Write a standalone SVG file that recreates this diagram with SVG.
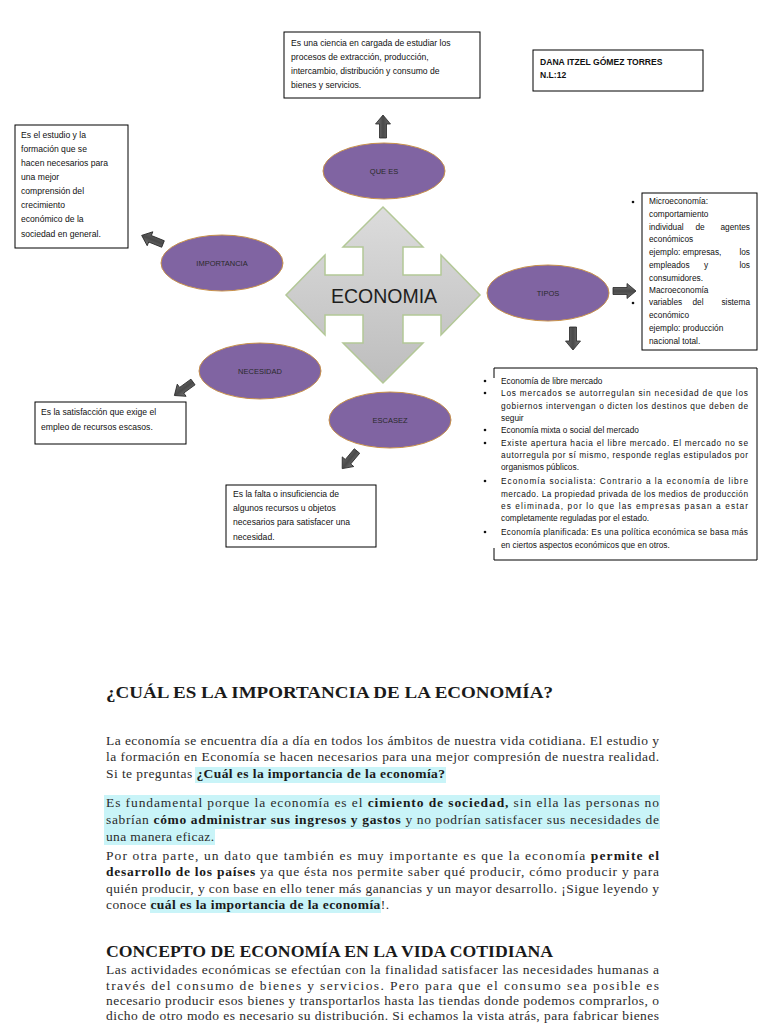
<svg xmlns="http://www.w3.org/2000/svg" width="768" height="1024" viewBox="0 0 768 1024">
<defs>
<linearGradient id="gq" x1="0" y1="0" x2="0" y2="1"><stop offset="0" stop-color="#dcdcdc"/><stop offset="1" stop-color="#bdbdbd"/></linearGradient>
<linearGradient id="ga" x1="0" y1="0" x2="0" y2="1"><stop offset="0" stop-color="#7a7a7a"/><stop offset="0.5" stop-color="#4a4a4a"/><stop offset="1" stop-color="#6a6a6a"/></linearGradient>
<path id="barrow" d="M0,-3.5 L14,-3.5 L14,-7.5 L23,0 L14,7.5 L14,3.5 L0,3.5 Z"/>
</defs>
<style>
.box{fill:#fff;stroke:#000;stroke-width:1}
.bt{font-family:"Liberation Sans",Arial,sans-serif;font-size:8.6px;fill:#111}
.st{font-family:"Liberation Sans",Arial,sans-serif;font-size:8.3px;fill:#111}
.el{fill:#8064a2;stroke:#c8914a;stroke-width:1}
.elt{font-family:"Liberation Sans",Arial,sans-serif;font-size:7.5px;fill:#2a2a2a;text-anchor:middle}
.ar{fill:url(#ga);stroke:#262626;stroke-width:0.8}
.p{font-family:"Liberation Serif","Times New Roman",serif;font-size:13.5px;fill:#2b2b2b}
.h{font-family:"Liberation Serif","Times New Roman",serif;font-size:17.5px;font-weight:bold;fill:#1a1a1a}
.b{font-weight:bold;fill:#1a1a1a}
.hl{fill:#c9f4f8}
.bul{fill:#111}
</style>
<rect width="768" height="1024" fill="#fff"/>

<g id="connectors">
<use href="#barrow" class="ar" transform="translate(383,138) rotate(-90)"/>
<use href="#barrow" class="ar" transform="translate(613,291)"/>
<use href="#barrow" class="ar" transform="translate(573,327) rotate(90)"/>
<use href="#barrow" class="ar" transform="translate(163,244) rotate(202)"/>
<use href="#barrow" class="ar" transform="translate(193,382) rotate(144)"/>
<use href="#barrow" class="ar" transform="translate(357,451) rotate(130)"/>
</g>

<g id="economia">
<path d="M383,207 L423,247 L403,247 L403,275 L441,275 L441,255 L480,295 L441,335 L441,315 L403,315 L403,343 L423,343 L383,383 L343,343 L363,343 L363,315 L325,315 L325,335 L286,295 L325,255 L325,275 L363,275 L363,247 L343,247 Z" fill="url(#gq)" stroke="#b3c897" stroke-width="1.5"/>
<text x="384" y="303" font-family="Liberation Sans,Arial,sans-serif" font-size="19.5" fill="#1e1e1e" text-anchor="middle">ECONOMIA</text>
</g>

<g id="que-es">
<ellipse class="el" cx="384" cy="171" rx="61" ry="28"/>
<text class="elt" x="384" y="174">QUE ES</text>
</g>
<g id="importancia">
<ellipse class="el" cx="222" cy="263" rx="61" ry="28"/>
<text class="elt" x="222" y="266">IMPORTANCIA</text>
</g>
<g id="necesidad">
<ellipse class="el" cx="260" cy="371" rx="61" ry="28"/>
<text class="elt" x="260" y="374">NECESIDAD</text>
</g>
<g id="escasez">
<ellipse class="el" cx="390" cy="420" rx="61" ry="28"/>
<text class="elt" x="390" y="423">ESCASEZ</text>
</g>
<g id="tipos">
<ellipse class="el" cx="548" cy="293" rx="61" ry="28"/>
<text class="elt" x="548" y="296">TIPOS</text>
</g>

<g id="box-que-es">
<rect class="box" x="284" y="32" width="196" height="66"/>
<text class="bt" x="291" y="46">Es una ciencia en cargada de estudiar los</text>
<text class="bt" x="291" y="60">procesos de extracción, producción,</text>
<text class="bt" x="291" y="74">intercambio, distribución y consumo de</text>
<text class="bt" x="291" y="88">bienes y servicios.</text>
</g>

<g id="box-nombre">
<rect class="box" x="533" y="50" width="170" height="41"/>
<text class="bt" x="540" y="65" font-weight="bold">DANA ITZEL GÓMEZ TORRES</text>
<text class="bt" x="540" y="78" font-weight="bold">N.L:12</text>
</g>

<g id="box-importancia">
<rect class="box" x="15" y="125" width="113" height="123"/>
<text class="bt" x="21" y="138">Es el estudio y la</text>
<text class="bt" x="21" y="152">formación que se</text>
<text class="bt" x="21" y="166">hacen necesarios para</text>
<text class="bt" x="21" y="180">una mejor</text>
<text class="bt" x="21" y="194">comprensión del</text>
<text class="bt" x="21" y="208">crecimiento</text>
<text class="bt" x="21" y="222">económico de la</text>
<text class="bt" x="21" y="237">sociedad en general.</text>
</g>

<g id="box-tipos">
<rect class="box" x="642" y="193" width="115" height="157"/>
<circle class="bul" cx="633" cy="202" r="1.3"/>
<circle class="bul" cx="633" cy="303" r="1.3"/>
<text class="st" x="649" y="204">Microeconomía:</text>
<text class="st" x="649" y="217">comportamiento</text>
<text class="st" x="649" y="230">individual</text>
<text class="st" x="700" y="230" text-anchor="middle">de</text>
<text class="st" x="750" y="230" text-anchor="end">agentes</text>
<text class="st" x="649" y="242">económicos</text>
<text class="st" x="649" y="255">ejemplo: empresas,</text>
<text class="st" x="750" y="255" text-anchor="end">los</text>
<text class="st" x="649" y="268">empleados</text>
<text class="st" x="706" y="268" text-anchor="middle">y</text>
<text class="st" x="750" y="268" text-anchor="end">los</text>
<text class="st" x="649" y="281">consumidores.</text>
<text class="st" x="649" y="293">Macroeconomía</text>
<text class="st" x="649" y="305">variables</text>
<text class="st" x="698" y="305" text-anchor="middle">del</text>
<text class="st" x="750" y="305" text-anchor="end">sistema</text>
<text class="st" x="649" y="318">económico</text>
<text class="st" x="649" y="331">ejemplo: producción</text>
<text class="st" x="649" y="344">nacional total.</text>
</g>

<g id="box-mercados">
<path d="M494,378 L494,368 L757,368 L757,560 L494,560 L494,548" fill="none" stroke="#000" stroke-width="1"/>
<circle class="bul" cx="485" cy="381" r="1.3"/>
<circle class="bul" cx="485" cy="393" r="1.3"/>
<circle class="bul" cx="485" cy="430" r="1.3"/>
<circle class="bul" cx="485" cy="443" r="1.3"/>
<circle class="bul" cx="485" cy="481" r="1.3"/>
<circle class="bul" cx="485" cy="532" r="1.3"/>
<text class="st" x="501" y="384">Economía de libre mercado</text>
<text class="st" x="501" y="396" textLength="247" lengthAdjust="spacing">Los mercados se autorregulan sin necesidad de que los</text>
<text class="st" x="501" y="409" textLength="247" lengthAdjust="spacing">gobiernos intervengan o dicten los destinos que deben de</text>
<text class="st" x="501" y="421">seguir</text>
<text class="st" x="501" y="433">Economía mixta o social del mercado</text>
<text class="st" x="501" y="446" textLength="247" lengthAdjust="spacing">Existe apertura hacia el libre mercado. El mercado no se</text>
<text class="st" x="501" y="458" textLength="247" lengthAdjust="spacing">autorregula por sí mismo, responde reglas estipulados por</text>
<text class="st" x="501" y="470">organismos públicos.</text>
<text class="st" x="501" y="484" textLength="247" lengthAdjust="spacing">Economía socialista: Contrario a la economía de libre</text>
<text class="st" x="501" y="497" textLength="247" lengthAdjust="spacing">mercado. La propiedad privada de los medios de producción</text>
<text class="st" x="501" y="509" textLength="247" lengthAdjust="spacing">es eliminada, por lo que las empresas pasan a estar</text>
<text class="st" x="501" y="521">completamente reguladas por el estado.</text>
<text class="st" x="501" y="535" textLength="247" lengthAdjust="spacing">Economía planificada: Es una política económica se basa más</text>
<text class="st" x="501" y="548">en ciertos aspectos económicos que en otros.</text>
</g>

<g id="box-necesidad">
<rect class="box" x="35" y="402" width="151" height="42"/>
<text class="bt" x="41" y="415">Es la satisfacción que exige el</text>
<text class="bt" x="41" y="430">empleo de recursos escasos.</text>
</g>

<g id="box-escasez">
<rect class="box" x="226" y="485" width="150" height="62"/>
<text class="bt" x="233" y="497">Es la falta o insuficiencia de</text>
<text class="bt" x="233" y="511">algunos recursos u objetos</text>
<text class="bt" x="233" y="525">necesarios para satisfacer una</text>
<text class="bt" x="233" y="540">necesidad.</text>
</g>

<g id="texto">
<rect class="hl" x="195" y="767" width="251" height="16"/>
<rect class="hl" x="104" y="795" width="556" height="34"/>
<rect class="hl" x="104" y="829" width="111" height="16"/>
<rect class="hl" x="150" y="897" width="231" height="16"/>

<text class="h" x="106" y="698" textLength="447" lengthAdjust="spacingAndGlyphs">¿CUÁL ES LA IMPORTANCIA DE LA ECONOMÍA?</text>

<text class="p" x="106" y="745" textLength="553" lengthAdjust="spacing">La economía se encuentra día a día en todos los ámbitos de nuestra vida cotidiana. El estudio y</text>
<text class="p" x="106" y="761" textLength="553" lengthAdjust="spacing">la formación en Economía se hacen necesarios para una mejor compresión de nuestra realidad.</text>
<text class="p" x="106" y="778" textLength="339" lengthAdjust="spacing">Si te preguntas <tspan class="b">¿Cuál es la importancia de la economía?</tspan></text>

<text class="p" x="106" y="807" textLength="553" lengthAdjust="spacing">Es fundamental porque la economía es el <tspan class="b">cimiento de sociedad,</tspan> sin ella las personas no</text>
<text class="p" x="106" y="824" textLength="553" lengthAdjust="spacing">sabrían <tspan class="b">cómo administrar sus ingresos y gastos</tspan> y no podrían satisfacer sus necesidades de</text>
<text class="p" x="106" y="841" textLength="108" lengthAdjust="spacing">una manera eficaz.</text>
<text class="p" x="106" y="860" textLength="553" lengthAdjust="spacing">Por otra parte, un dato que también es muy importante es que la economía <tspan class="b">permite el</tspan></text>
<text class="p" x="106" y="876" textLength="553" lengthAdjust="spacing"><tspan class="b">desarrollo de los países</tspan> ya que ésta nos permite saber qué producir, cómo producir y para</text>
<text class="p" x="106" y="893" textLength="553" lengthAdjust="spacing">quién producir, y con base en ello tener más ganancias y un mayor desarrollo. ¡Sigue leyendo y</text>
<text class="p" x="106" y="909" textLength="283" lengthAdjust="spacing">conoce <tspan class="b">cuál es la importancia de la economía</tspan>!.</text>

<text class="h" x="106" y="957" textLength="447" lengthAdjust="spacingAndGlyphs">CONCEPTO DE ECONOMÍA EN LA VIDA COTIDIANA</text>

<text class="p" x="106" y="974" textLength="553" lengthAdjust="spacing">Las actividades económicas se efectúan con la finalidad satisfacer las necesidades humanas a</text>
<text class="p" x="106" y="990" textLength="553" lengthAdjust="spacing">través del consumo de bienes y servicios. Pero para que el consumo sea posible es</text>
<text class="p" x="106" y="1005" textLength="553" lengthAdjust="spacing">necesario producir esos bienes y transportarlos hasta las tiendas donde podemos comprarlos, o</text>
<text class="p" x="106" y="1020" textLength="553" lengthAdjust="spacing">dicho de otro modo es necesario su distribución. Si echamos la vista atrás, para fabricar bienes</text>
</g>
</svg>
